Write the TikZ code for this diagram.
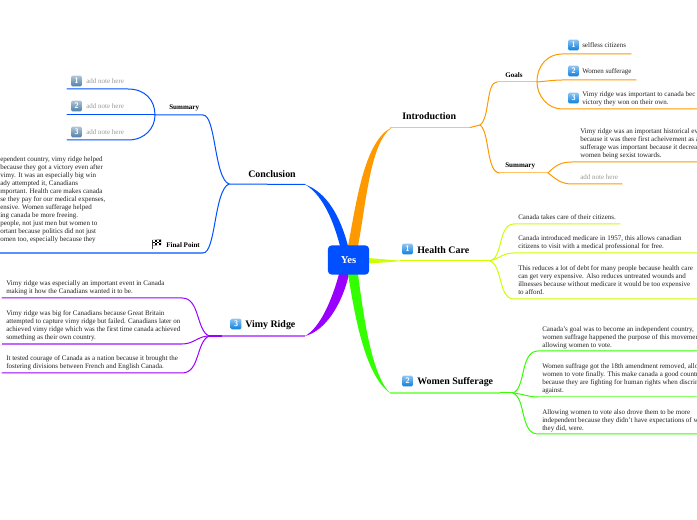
\documentclass[tikz,border=0pt]{standalone}
\usepackage{fontspec}
\setmainfont{Liberation Serif}
\definecolor{orgA}{HTML}{FF9900}
\definecolor{orgB}{HTML}{FFC266}
\definecolor{yelA}{HTML}{CCFF00}
\definecolor{grnA}{HTML}{33FF00}
\definecolor{grnB}{HTML}{8CFF66}
\definecolor{purA}{HTML}{9900FF}
\definecolor{purB}{HTML}{C266FF}
\definecolor{bluA}{HTML}{0050FF}
\definecolor{bluB}{HTML}{5C8FFF}
\definecolor{txt}{HTML}{222222}
\tikzset{
 body/.style={anchor=north west,inner sep=0pt,align=left,text=txt,font=\fontsize{5.25pt}{6pt}\selectfont},
 note/.style={body,text=black!40},
 sub/.style={anchor=west,inner sep=0pt,font=\bfseries\fontsize{5.3pt}{6pt}\selectfont,text=black},
 main/.style={anchor=west,inner sep=0pt,font=\bfseries\fontsize{7.45pt}{9pt}\selectfont,text=black},
 lk/.style={line width=0.75pt,line cap=round},
 thick line/.style={line width=1.1pt},
 iconb/.style={anchor=center,minimum size=8pt,inner sep=0pt,rounded corners=1pt,top color=#1!45!white,bottom color=#1,text=white,font=\bfseries\sffamily\fontsize{6pt}{6pt}\selectfont},
 iconb/.default={blue}
}
\definecolor{icB}{HTML}{0A7FE0}
\definecolor{icG}{HTML}{4F7FA8}
\begin{document}
\begin{tikzpicture}[x=0.75pt,y=-0.75pt]
\useasboundingbox (0,0) rectangle (697,520);
\clip (0,0) rectangle (697,520);
\fill[white] (0,0) rectangle (697,520);

% tapered trunks
\fill[orgA] (348,246) .. controls (356,205) and (364,140) .. (392,127.5) .. controls (370,142) and (366,205) .. (358,246) -- cycle;
\fill[bluA] (340,246) .. controls (332,215) and (320,193) .. (305,184.5) .. controls (326,192) and (340,215) .. (348,246) -- cycle;
\fill[purA] (339,274) .. controls (332,300) and (320,328) .. (305,336) .. controls (325,331) and (342,305) .. (349,274) -- cycle;
\fill[grnA] (348,274) .. controls (354,310) and (364,375) .. (390,393) .. controls (372,375) and (364,320) .. (358,274) -- cycle;
\fill[yelA] (368,258) -- (400,260.7) -- (400,261.3) -- (368,263.5) -- cycle;

% anchors
\coordinate (jI) at (480,125); \coordinate (jG) at (537,82); \coordinate (jS) at (548,173);
\coordinate (jH) at (490,261); \coordinate (jW) at (513,393); \coordinate (jV) at (209,336);
\coordinate (jC) at (229,184); \coordinate (jLS) at (155,115);

% central
\node[fill=bluA,rounded corners=3pt,minimum width=31pt,minimum height=22pt,inner sep=0pt,text=white,font=\bfseries\fontsize{8pt}{9pt}\selectfont] (root) at (348.5,260) {Yes};

% Introduction
\coordinate (iS) at (390,127.5);
\draw[orgB,thick line] (iS) -- (470,127.5);
\draw[orgA,lk] (470,127.5) -- (jI);
\draw[orgA,lk] (jI) .. controls (490,118) and (486,82) .. (497,82) coordinate (gS);
\draw[orgA,lk] (jI) .. controls (490,132) and (486,173) .. (500,173) coordinate (sS);
\draw[orgB,lk] (gS) -- (jG);
\draw[orgB,lk] (sS) -- (jS);
\coordinate (e1) at (631,54); \coordinate (e2) at (636,80); \coordinate (e3) at (697,109);
\coordinate (e4) at (697,162); \coordinate (e5) at (622,184);
\draw[orgA,lk] (jG) .. controls (537,65) and (548,54) .. (562,54) -- (e1);
\draw[orgA,lk] (jG) .. controls (548,81) and (555,80) .. (562,80) -- (e2);
\draw[orgA,lk] (jG) .. controls (537,96) and (548,109) .. (562,109) -- (e3);
\draw[orgA,lk] (jS) .. controls (555,166) and (560,162) .. (572,162) -- (e4);
\draw[orgA,lk] (jS) .. controls (555,178) and (560,184) .. (572,184) -- (e5);

\node[main] (nI) at (402,116.5) {Introduction};
\node[sub] (nG) at (505,75) {Goals};
\node[sub] (nS) at (505,166) {Summary};
\node[iconb=icB] (i1) at (573.5,45) {1};
\node[iconb=icB] (i2) at (573.5,71) {2};
\node[iconb=icB] (i3) at (573.5,98) {3};
\node[body] (t1) at (582,42.5) {selfless citizens};
\node[body] (t2) at (582,68.5) {Women sufferage};
\node[body] (t3) at (582,91.5) {Vimy ridge was important to canada bec\\victory they won on their own.};
\node[body] (t4) at (580,128.5) {Vimy ridge was an important historical ev\\because it was there first acheivement as a\\sufferage was important because it decrea\\women being sexist towards.};
\node[note] (t5) at (580,174.5) {add note here};

% Health care
\draw[yelA,lk] (400,261) -- (jH);
\coordinate (h1) at (620,224); \coordinate (h2) at (697,253); \coordinate (h3) at (697,299);
\draw[yelA,lk] (jH) .. controls (503,258) and (498,224) .. (514,224) -- (h1);
\draw[yelA,lk] (jH) .. controls (500,258) and (503,253) .. (514,253) -- (h2);
\draw[yelA,lk] (jH) .. controls (503,266) and (498,299) .. (514,299) -- (h3);
\node[iconb=icB] (i4) at (407.5,249) {1};
\node[main] (nH) at (417,250) {Health Care};
\node[body] (h1t) at (518,214.5) {Canada takes care of their citizens.};
\node[body] (h2t) at (518,235.5) {Canada introduced medicare in 1957, this allows canadian\\citizens to visit with a medical professional for free.};
\node[body] (h3t) at (518,265.5) {This reduces a lot of debt for many people because health care\\can get very expensive. Also reduces untreated wounds and\\illnesses because without medicare it would be too expensive\\to afford.};

% Women
\draw[grnB,thick line] (390,393) -- (500,393);
\draw[grnA,lk] (500,393) -- (jW);
\coordinate (w1) at (697,351); \coordinate (w2) at (697,397); \coordinate (w3) at (697,434);
\draw[grnA,lk] (jW) .. controls (526,388) and (520,351) .. (538,351) -- (w1);
\draw[grnA,lk] (jW) .. controls (524,394) and (528,397) .. (538,397);
\draw[grnB,lk] (538,397) -- (w2);
\draw[grnA,lk] (jW) .. controls (526,398) and (520,434) .. (538,434) -- (w3);
\node[iconb=icB] (i5) at (407.5,381) {2};
\node[main] (nW) at (417,382.5) {Women Sufferage};
\node[body] (w1t) at (542,326.5) {Canada's goal was to become an independent country,\\women suffrage happened the purpose of this movemen\\allowing women to vote.};
\node[body] (w2t) at (542,363.5) {Women suffrage got the 18th amendment removed, allo\\women to vote finally. This make canada a good countr\\because they are fighting for human rights when discrin\\against.};
\node[body] (w3t) at (542,409.5) {Allowing women to vote also drove them to be more\\independent because they  didn't have expectations of w\\they did, were.};

% Vimy
\draw[purB,thick line] (305,336) -- (222,336);
\draw[purA,line width=1pt] (222,336) -- (jV);
\coordinate (v1) at (2,298); \coordinate (v2) at (2,344); \coordinate (v3) at (2,373);
\draw[purA,lk] (jV) .. controls (196,330) and (200,298) .. (182,298) -- (v1);
\draw[purA,lk] (jV) .. controls (198,336) and (194,344) .. (182,344);
\draw[purB,thick line] (182,344) -- (v2);
\draw[purA,lk] (jV) .. controls (196,342) and (200,373) .. (182,373) -- (v3);
\node[iconb=icB] (i6) at (236,324) {3};
\node[main] (nV) at (245,325) {Vimy Ridge};
\node[body] (v1t) at (6,280.5) {Vimy ridge was especially an important event in Canada\\making it how the Canadians wanted it to be.};
\node[body] (v2t) at (6,310.5) {Vimy ridge was big for Canadians because Great Britain\\attempted to capture vimy ridge but failed. Canadians later on\\achieved vimy ridge which was the first time canada achieved\\something as their own country.};
\node[body] (v3t) at (6,355.5) {It tested courage of Canada as a nation because it brought the\\fostering divisions between French and English Canada.};

% Conclusion
\draw[bluA,lk] (305,184.5) -- (jC);
\coordinate (c1) at (67,89); \coordinate (c2) at (67,115); \coordinate (c3) at (67,140);
\coordinate (cF) at (0,253);
\draw[bluA,lk] (jC) .. controls (214,178) and (216,115) .. (203,115) -- (jLS);
\draw[bluA,lk] (jC) .. controls (214,190) and (216,253) .. (203,253);
\draw[bluB,line width=1pt] (203,253) -- (cF);
\draw[bluA,lk] (jLS) .. controls (155,100) and (145,89) .. (128,89) -- (c1);
\draw[bluA,lk] (jLS) -- (c2);
\draw[bluA,lk] (jLS) .. controls (155,128) and (145,140) .. (128,140) -- (c3);
\node[main] (nC) at (248,174.5) {Conclusion};
\node[sub] (nLS) at (169,108) {Summary};
\node[sub] (nF) at (166,245) {Final Point};
\node[iconb=icG] (i7) at (76.5,81) {1};
\node[iconb=icG] (i8) at (76.5,106) {2};
\node[iconb=icG] (i9) at (76.5,132) {3};
\node[note] (n1) at (86,78.5) {add note here};
\node[note] (n2) at (86,103.5) {add note here};
\node[note] (n3) at (86,129.5) {add note here};
\node[body] (ft) at (0,156.5) {ependent country, vimy ridge helped\\because they got a victory even after\\vimy. It was an especially big win\\ady attempted it, Canadians\\mportant. Health care makes canada\\se they pay for our medical expenses,\\ensive. Women sufferage helped\\ing canada be more freeing.\\people, not just men but women to\\ortant because politics did not just\\omen too, especially because they};
% flag
\draw[black!70,line width=0.4pt] (152,249) -- (152,240);
\fill[black] (152.5,240) -- (161,239.5) -- (161,245) -- (152.5,245.5) -- cycle;
\foreach \a/\b in {153/240.5,155/242,157/240.5,159/242,153/243.5,157/243.5}{\fill[white] (\a,\b) rectangle +(1.5,1.4);}
\end{tikzpicture}
\end{document}
